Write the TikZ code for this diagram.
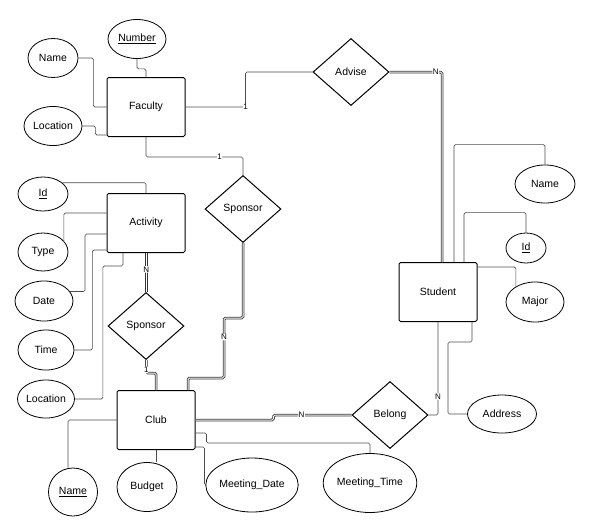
\documentclass[tikz,border=0pt]{standalone}
\usepackage{fontspec}
\setmainfont{Liberation Sans}
\usetikzlibrary{shapes.geometric}
\begin{document}
\begin{tikzpicture}[x=1pt,y=-1pt,
    every node/.style={font=\fontsize{10.5}{12}\selectfont},
    entity/.style={draw, line width=1pt, rounded corners=1.5pt, minimum width=78pt, minimum height=59pt},
    rel/.style={draw, line width=1pt, diamond, aspect=1.13, inner sep=0pt, minimum width=76pt, minimum height=67pt},
    attr/.style={draw, line width=0.8pt, ellipse, inner sep=0pt},
    link/.style={draw=black!70, line width=0.6pt, rounded corners=1.5pt},
    dlink/.style={link, draw=black!80, double=white, double distance=1pt, line width=0.75pt},
    card/.style={fill=white, inner sep=0.4pt, font=\fontsize{8}{9}\selectfont}]
    \useasboundingbox (0,0) rectangle (591,523);

    \node[entity] (fac) at (146,107) {Faculty};
    \node[entity] (act) at (146,223) {Activity};
    \node[entity] (club) at (156,420) {Club};
    \node[entity] (stu) at (438,292) {Student};

    \node[rel] (adv) at (351,72) {Advise};
    \node[rel] (spa) at (243,209) {Sponsor};
    \node[rel] (spb) at (146,326) {Sponsor};
    \node[rel] (bel) at (390,415) {Belong};

    \node[attr, minimum width=50pt, minimum height=39pt] (fname) at (53,58) {Name};
    \node[attr, minimum width=58pt, minimum height=39pt] (fnum) at (137,39) {\underline{Number}};
    \node[attr, minimum width=58pt, minimum height=39pt] (floc) at (53,126) {Location};

    \node[attr, minimum width=50pt, minimum height=34pt] (aid) at (43,194) {\underline{Id}};
    \node[attr, minimum width=50pt, minimum height=38pt] (atype) at (43,252) {Type};
    \node[attr, minimum width=58pt, minimum height=40pt] (adate) at (44,301) {Date};
    \node[attr, minimum width=56pt, minimum height=40pt] (atime) at (46,350) {Time};
    \node[attr, minimum width=57pt, minimum height=38pt] (aloc) at (46,399) {Location};

    \node[attr, minimum width=49pt, minimum height=48pt] (cname) at (73,492) {\underline{Name}};
    \node[attr, minimum width=60pt, minimum height=49pt] (bud) at (147,487) {Budget};
    \node[attr, minimum width=78pt, minimum height=54pt] (mdate) at (252,485) {Meeting\_Date};
    \node[attr, minimum width=77pt, minimum height=59pt] (mtime) at (370,483) {Meeting\_Time};

    \node[attr, minimum width=60pt, minimum height=38pt] (sname) at (545,184) {Name};
    \node[attr, minimum width=40pt, minimum height=30pt] (sid) at (526,248) {\underline{Id}};
    \node[attr, minimum width=58pt, minimum height=40pt] (smaj) at (535,302) {Major};
    \node[attr, minimum width=69pt, minimum height=38pt] (saddr) at (502,414) {Address};

    \draw[link] (fname.east) -- ++(15,0) |- (fac.west);
    \draw[link] (fnum.south) -- ++(0,10) -| (fac.north);
    \draw[link] (floc.east) -- ++(13,0) |- ([yshift=2pt]fac.south west);
    \draw[link] (fac.east) -- ++(60,0) node[card] {1} |- (adv.west);
    \draw[dlink] (adv.east) -| node[card, pos=0.44] {N} ([xshift=4pt]stu.north);
    \draw[link] (fac.south) -- ++(0,20) -- node[card, pos=0.76] {1} ++(97,0) -- (spa.north);
    \draw[dlink] (spa.south) -- ++(0,75) -- ++(-19,0) -- node[card, pos=0.32] {N} ++(0,60) -| ([xshift=32pt]club.north);

    \draw[link] (aid.30) -| (act.north);
    \draw[link] (atype.28) |- ([yshift=10pt]act.west);
    \draw[link] (adate.20) -- ++(15,0) |- ([yshift=-11pt]act.west);
    \draw[link] (atime.east) -- ++(18,0) |- ([yshift=-27pt]act.west);
    \draw[link] (aloc.east) -- ++(28,0) |- ([xshift=-23pt,yshift=-13pt]act.south) -- ([xshift=-23pt]act.south);
    \draw[dlink] ([xshift=0.3pt]act.south) -- node[card, pos=0.42] {N} ([xshift=0.3pt]spb.north);
    \draw[dlink] ([xshift=0.3pt]spb.south) -- node[card, pos=0.75] {1} ++(0,13) -| (club.north);

    \draw[link] (club.west) -| ([xshift=-5pt]cname.north);
    \draw[link] (club.south) -- (club.south |- bud.north);
    \draw[link] ([yshift=-27pt]club.east) -- ++(9,0) |- (mdate.west);
    \draw[link] ([yshift=-13pt]club.east) -- ++(11,0) -- ++(0,10) -| (mtime.north);
    \draw[dlink] (club.east) -- ++(78,0) -- ++(0,-5) -- node[card, pos=0.36] {N} (bel.west);
    \draw[link] (bel.east) -| node[card, pos=0.6] {N} (stu.south);

    \draw[link] (sname.north) -- ++(0,-20) -| ([xshift=16pt]stu.north);
    \draw[link] (sid.north) -- ++(0,-20) -| ([xshift=26pt]stu.north);
    \draw[link] ([yshift=25pt]stu.east) -| (smaj.141);
    \draw[link] ([xshift=34pt]stu.south) -- ++(0,20) -- ++(-24,0) |- (saddr.west);
\end{tikzpicture}
\end{document}
